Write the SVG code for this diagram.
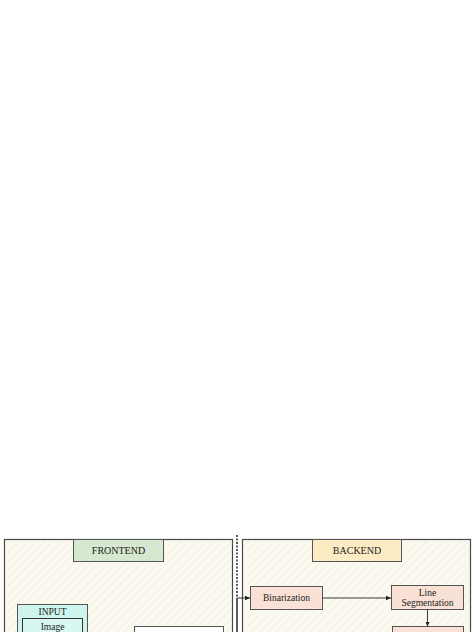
<svg xmlns="http://www.w3.org/2000/svg" width="474" height="632" viewBox="0 0 474 632">
<defs>
<pattern id="hatch" width="6" height="6" patternUnits="userSpaceOnUse" patternTransform="rotate(45)">
<rect width="6" height="6" fill="#fcfaf0"/>
<line x1="0" y1="0" x2="0" y2="6" stroke="#ebe6d6" stroke-width="1"/>
</pattern>
<marker id="arr" markerWidth="6" markerHeight="6" refX="5" refY="3" orient="auto" markerUnits="userSpaceOnUse">
<path d="M0,0.8 L5,3 L0,5.2 Z" fill="#222"/>
</marker>
</defs>
<style>
.panel{fill:url(#hatch);stroke:#4a4a4a;stroke-width:1.2}
.box{stroke:#555;stroke-width:1}
.t{font-family:"Liberation Serif","Times New Roman",serif;font-size:9.5px;fill:#222;text-anchor:middle}
.lt{font-size:10px}
.conn{stroke:#222;stroke-width:0.9;fill:none}
</style>
<rect width="474" height="632" fill="#ffffff"/>
<g id="frontend-panel">
<rect class="panel" x="4.5" y="539.5" width="228" height="100"/>
</g>
<g id="backend-panel">
<rect class="panel" x="242.5" y="539.5" width="228" height="100"/>
</g>
<g id="frontend-label">
<rect class="box" x="73.5" y="539.5" width="90" height="22" fill="#d6e8cf"/>
<text class="t lt" x="118.5" y="554">FRONTEND</text>
</g>
<g id="backend-label">
<rect class="box" x="312.5" y="539.5" width="89" height="22" fill="#fdebc4"/>
<text class="t lt" x="357" y="554">BACKEND</text>
</g>
<g id="input">
<rect class="box" x="17.5" y="604.5" width="70" height="40" fill="#cdf5ee"/>
<text class="t" x="52.5" y="614.5">INPUT</text>
</g>
<g id="image">
<rect x="22.5" y="618.5" width="60" height="25" fill="#d8f7f1" stroke="#333" stroke-width="1"/>
<text class="t" x="52.5" y="630">Image</text>
</g>
<g id="frontend-box2">
<rect x="134.5" y="626.5" width="89" height="20" fill="#ffffff" stroke="#555" stroke-width="1"/>
</g>
<g id="binarization">
<rect class="box" x="250.5" y="586.5" width="72" height="23" fill="#f9e1d6"/>
<text class="t" x="286.5" y="601">Binarization</text>
</g>
<g id="line-segmentation">
<rect class="box" x="391.5" y="585.5" width="72" height="24" fill="#f9e1d6"/>
<text class="t" x="427.5" y="595.5">Line</text>
<text class="t" x="427.5" y="606">Segmentation</text>
</g>
<g id="backend-box3">
<rect class="box" x="392.5" y="626.5" width="71" height="20" fill="#f9e1d6"/>
</g>
<g id="connectors">
<line x1="237" y1="535" x2="237" y2="598" stroke="#333" stroke-width="1.6" stroke-dasharray="2,1.5"/>
<line x1="237" y1="598" x2="237" y2="632" stroke="#333" stroke-width="1.6"/>
<line class="conn" x1="237" y1="598" x2="250" y2="598" marker-end="url(#arr)"/>
<line class="conn" x1="322.5" y1="598" x2="391" y2="598" marker-end="url(#arr)"/>
<line class="conn" x1="427.5" y1="609.5" x2="427.5" y2="626.5" marker-end="url(#arr)"/>
</g>
</svg>
